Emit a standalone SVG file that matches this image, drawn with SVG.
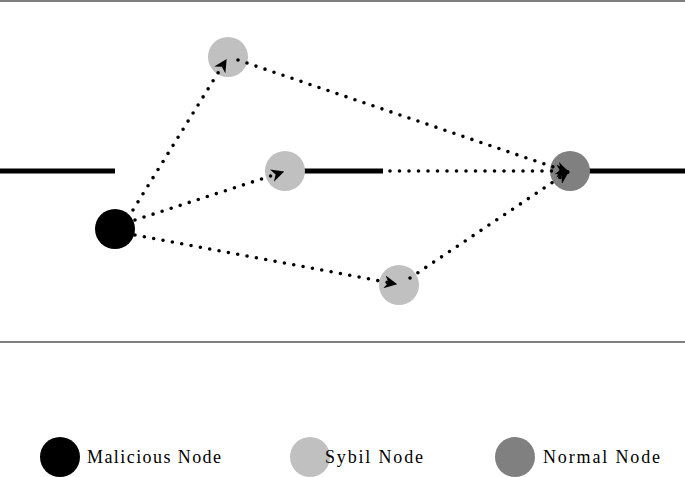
<svg xmlns="http://www.w3.org/2000/svg" width="685" height="477" viewBox="0 0 685 477">
<style>
.d{stroke:#000;stroke-width:3.6;stroke-dasharray:0 9.5;stroke-linecap:round;fill:none;marker-end:url(#a)}
.t{font-family:"Liberation Serif",serif;font-size:18px;fill:#000}
</style>
<defs><marker id="a" viewBox="0 0 10 10" refX="9" refY="5" markerWidth="13" markerHeight="13" markerUnits="userSpaceOnUse" orient="auto"><path d="M0,0 L10,5 L0,10 L3,5 Z" fill="#000"/></marker></defs>
<rect width="685" height="477" fill="#fff"/>
<line x1="0" y1="1" x2="685" y2="1" stroke="#000" stroke-width="1.2"/>
<line x1="0" y1="342" x2="685" y2="342" stroke="#000" stroke-width="1.2"/>
<g id="bars" stroke="#000" stroke-width="5">
<line x1="0" y1="171" x2="115" y2="171"/>
<line x1="300" y1="171" x2="383" y2="171"/>
<line x1="580" y1="171" x2="685" y2="171"/>
</g>
<g id="s1"><circle cx="228" cy="57" r="20" fill="#c0c0c0"/></g>
<g id="s2"><circle cx="285" cy="171" r="20" fill="#c0c0c0"/></g>
<g id="s3"><circle cx="399" cy="285" r="20" fill="#c0c0c0"/></g>
<g id="n"><circle cx="570" cy="171" r="20" fill="#808080"/></g>
<g id="m"><circle cx="115" cy="229" r="20" fill="#000"/></g>
<g id="connectors">
<path class="d" d="M128,218 L226,60"/>
<path class="d" d="M135,220 L283,172"/>
<path class="d" d="M135,235 L396,284"/>
<path class="d" d="M238,60 L568,172"/>
<path class="d" d="M390,171 L568,171"/>
<path class="d" d="M410,278 L568,172"/>
</g>
<g id="legend">
<circle cx="60" cy="457" r="20" fill="#000"/>
<text class="t" x="87" y="463" textLength="134">Malicious Node</text>
<circle cx="310" cy="457" r="20" fill="#c0c0c0"/>
<text class="t" x="325" y="463" textLength="98">Sybil Node</text>
<circle cx="515" cy="457" r="20" fill="#808080"/>
<text class="t" x="543" y="463" textLength="117">Normal Node</text>
</g>
</svg>
